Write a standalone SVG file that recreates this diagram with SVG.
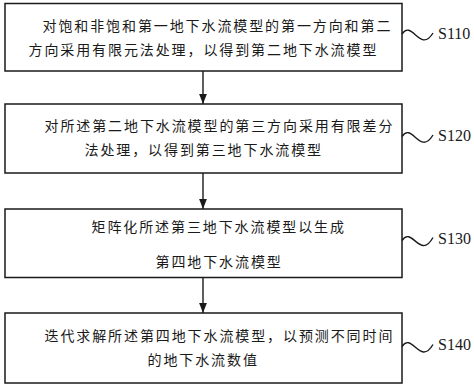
<svg xmlns="http://www.w3.org/2000/svg" width="474" height="387" viewBox="0 0 474 387">
<style>
.box{fill:#fff;stroke:#1a1a1a;stroke-width:1.5}
.t{font-family:"Noto Sans CJK SC","Noto Sans CJK JP",sans-serif;font-size:14px;letter-spacing:1.9px;fill:#1a1a1a}
.lbl{font-family:"Liberation Serif","DejaVu Serif",serif;font-size:16px;fill:#1a1a1a}
.wave{fill:none;stroke:#1a1a1a;stroke-width:1.4}
.conn{fill:none;stroke:#1a1a1a;stroke-width:1.4}
</style>
<defs>
<marker id="ah" markerUnits="userSpaceOnUse" markerWidth="10" markerHeight="12" refX="11" refY="4.25" orient="auto" viewBox="0 0 11 8.5">
<polygon points="0,0 11,4.25 0,8.5" fill="#1a1a1a"/>
</marker>
</defs>
<rect width="474" height="387" fill="#fff"/>
<g id="connectors">
<path class="conn" d="M203,71 V104" marker-end="url(#ah)"/>
<path class="conn" d="M203,173 V209" marker-end="url(#ah)"/>
<path class="conn" d="M203,277.5 V313" marker-end="url(#ah)"/>
</g>
<g id="S110">
<rect class="box" x="5" y="3.5" width="397" height="67.5"/>
<text class="t" x="42.5" y="30.8">对饱和非饱和第一地下水流模型的第一方向和第二</text>
<text class="t" x="28.5" y="54.8">方向采用有限元法处理，以得到第二地下水流模型</text>
<path class="wave" d="M402,34 c10,-15 18,20 31,-1"/>
<text class="lbl" x="438" y="38.5">S110</text>
</g>
<g id="S120">
<rect class="box" x="5" y="104" width="397" height="69"/>
<text class="t" x="44.5" y="131.3">对所述第二地下水流模型的第三方向采用有限差分</text>
<text class="t" x="84.5" y="155.3">法处理，以得到第三地下水流模型</text>
<path class="wave" d="M402,136.5 c10,-15 18,20 31,-1.5"/>
<text class="lbl" x="438" y="140.5">S120</text>
</g>
<g id="S130">
<rect class="box" x="5" y="209" width="397" height="68.5"/>
<text class="t" x="91.5" y="232.2">矩阵化所述第三地下水流模型以生成</text>
<text class="t" x="155.5" y="267">第四地下水流模型</text>
<path class="wave" d="M402,240.5 c10,-15 18,20 31,-3"/>
<text class="lbl" x="438" y="243.5">S130</text>
</g>
<g id="S140">
<rect class="box" x="5" y="313" width="397" height="70"/>
<text class="t" x="44.5" y="340.5">迭代求解所述第四地下水流模型，以预测不同时间</text>
<text class="t" x="147.5" y="364.5">的地下水流数值</text>
<path class="wave" d="M402,346.5 c10,-15 18,20 31,-2"/>
<text class="lbl" x="438" y="349.5">S140</text>
</g>
</svg>
